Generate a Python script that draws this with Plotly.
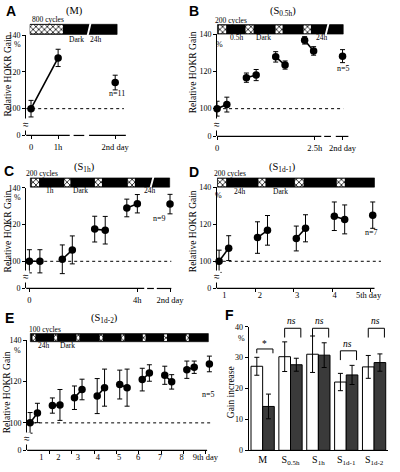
import plotly.graph_objects as go

W, H = 400, 472
SERIF = "Liberation Serif"
SANS = "Liberation Sans"

# ---------------- data ----------------
# Panel A (M)
a_x = [0, 1, 3.107]
a_y = [100, 127.6, 114.2]
a_err = [4.5, 4.7, 4.0]
a_tickvals = [0, 1, 3.107]
a_ticktext = ["0", "1h", "2nd day"]

# Panel B (S0.5h)
b_x = [0, 0.25, 0.75, 1.0, 1.5, 1.74, 2.24, 2.47, 3.21]
b_y = [100, 102.2, 116.7, 118.1, 127.9, 123.5, 136.8, 131.1, 128.3]
b_err = [4.0, 4.0, 2.5, 3.0, 2.8, 2.2, 2.0, 2.3, 3.5]
b_tickvals = [0, 2.5, 3.21]
b_ticktext = ["0", "2.5h", "2nd day"]

# Panel C (S1h)
c_x = [0, 0.39, 1.22, 1.59, 2.42, 2.81, 3.61, 4.0, 5.21]
c_y = [100, 100, 101.1, 106.2, 117.5, 116.9, 129.0, 131.3, 131.1]
c_err = [6.3, 6.3, 7.8, 7.6, 7.0, 7.5, 4.8, 5.0, 5.3]
c_tickvals = [0, 4, 5.21]
c_ticktext = ["0", "4h", "2nd day"]

# Panel D (S1d-1)
d_x = [1.06, 1.31, 2.06, 2.32, 3.07, 3.31, 4.06, 4.33, 5.06]
d_y = [100, 107.1, 112.8, 116.7, 112.3, 117.8, 124.3, 122.6, 124.9]
d_err = [6.0, 6.7, 8.5, 8.0, 6.7, 7.3, 7.7, 7.8, 7.1]
d_tickvals = [1.2, 2.12, 3.09, 4.07, 4.95]
d_ticktext = ["1", "2", "3", "4", "5th day"]
d_tickmarks = [2, 3, 4, 5]

# Panel E (S1d-2)
e_x = [0.12, 0.45, 1.12, 1.46, 2.11, 2.45, 3.13, 3.46, 4.14, 4.47,
       5.15, 5.47, 6.16, 6.47, 7.15, 7.48, 8.16]
e_y = [100, 104.8, 108.4, 108.7, 112.2, 116.2, 113.0, 117.1, 118.6, 117.1,
       121.0, 124.2, 123.1, 119.9, 125.8, 127.0, 128.6]
e_err = [5.0, 4.7, 3.7, 7.5, 5.7, 5.0, 8.5, 9.0, 7.0, 9.0,
         5.5, 4.0, 4.4, 3.5, 4.2, 3.0, 3.8]
e_tickvals = [0.63, 1.39, 2.26, 3.16, 4.11, 4.97, 5.95, 6.92, 7.98]
e_ticktext = ["1", "2", "3", "4", "5", "6", "7", "8", "9th day"]
e_tickmarks = [1, 2, 3, 4, 5, 6, 7, 8]

# Panel F (gain increase)
f_cats = ["M", "S<sub>0.5h</sub>", "S<sub>1h</sub>", "S<sub>1d-1</sub>", "S<sub>1d-2</sub>"]
f_white = [27.2, 30.3, 31.1, 22.1, 27.0]
f_white_err = [2.9, 4.8, 5.9, 2.8, 3.7]
f_dark = [14.2, 27.7, 30.8, 24.4, 28.4]
f_dark_err = [4.0, 2.1, 4.0, 3.1, 2.8]
f_sig = ["*", "ns", "ns", "ns", "ns"]
f_sig_y = [32.8, 39.5, 39.5, 32.2, 39.5]
f_sig_leg = [1.4, 3.0, 3.0, 3.0, 3.0]

# ---------------- layout config ----------------
def xd(l, r):
    return [l / W, r / W]

def yd(top, bot):
    return [1 - bot / H, 1 - top / H]

panels = [
    dict(n=1, x=a_x, y=a_y, err=a_err, tv=a_tickvals, tt=a_ticktext, marks=None,
         x0px=30, xs=28, left=25, right=130, top=31.7, bot=134, ybot=85.44,
         dash_end=126, segs=[(25, 70), (74, 85), (90, 128)], brk=123,
         title="(M)", tpos=(75, 7), letter="A", lpos=(9, 7),
         ylab=(6, 73), pct=(16, 41), ntxt="n=11", npos=(119, 91)),
    dict(n=2, x=b_x, y=b_y, err=b_err, tv=b_tickvals, tt=b_ticktext, marks=None,
         x0px=222.3, xs=40.4, left=222.3, right=362, top=31, bot=135, ybot=85.05,
         dash_end=352.7, segs=[(222.3, 330), (333, 340), (345, 358)], brk=122.7,
         title="(S<sub>0.5h</sub>)", tpos=(290, 8), letter="B", lpos=(198, 7),
         ylab=(197, 70), pct=(225, 41), ntxt="n=5", npos=(353, 66)),
    dict(n=3, x=c_x, y=c_y, err=c_err, tv=c_tickvals, tt=c_ticktext, marks=None,
         x0px=28.3, xs=27.9, left=25, right=177, top=187.3, bot=290, ybot=85.23,
         dash_end=175, segs=[(25, 147), (150, 157), (160, 175)], brk=278,
         title="(S<sub>1h</sub>)", tpos=(85, 167), letter="C", lpos=(7, 170),
         ylab=(6, 232), pct=(16, 197), ntxt="n=9", npos=(163, 219)),
    dict(n=4, x=d_x, y=d_y, err=d_err, tv=d_tickvals, tt=d_ticktext, marks=d_tickmarks,
         x0px=182.3, xs=39.7, left=222, right=395, top=186.7, bot=290, ybot=85.34,
         dash_end=391.7, segs=[(222, 385)], brk=278,
         title="(S<sub>1d-1</sub>)", tpos=(290, 167), letter="D", lpos=(198, 171),
         ylab=(197, 232), pct=(224, 195), ntxt="n=7", npos=(382, 233)),
    dict(n=5, x=e_x, y=e_y, err=e_err, tv=e_tickvals, tt=e_ticktext, marks=e_tickmarks,
         x0px=26.25, xs=23.05, left=26, right=220, top=343, bot=455, ybot=86.67,
         dash_end=218, segs=[(26, 212)], brk=443,
         title="(S<sub>1d-2</sub>)", tpos=(106, 321), letter="E", lpos=(8, 320),
         ylab=(6, 396), pct=(16, 353), ntxt="n=5", npos=(213, 398)),
]

timelines = [
    dict(l=29, r=119, t=20.7, b=31, hatch=[(29, 63)], slash=[(87.5, 90.5)],
         texts=[("800 cycles", 48, 16), ("Dark", 77.5, 36), ("24h", 97.5, 36)]),
    dict(l=222.7, r=352.7, t=21, b=30.7,
         hatch=[(224, 231.7), (251.7, 260), (282.7, 290), (311.7, 319.3)], slash=[(333.5, 336.5)],
         texts=[("200 cycles", 237, 17), ("0.5h", 242, 34.5), ("Dark", 270, 34.5), ("24h", 331, 34.5)]),
    dict(l=29.3, r=173.3, t=177.3, b=186.7,
         hatch=[(30.7, 38.3), (64.3, 70.7), (96, 103.3), (130, 137.3)], slash=[(152.5, 155.5)],
         texts=[("200 cycles", 41, 173), ("1h", 50, 190.5), ("Dark", 81.5, 190.5), ("24h", 153, 190.5)]),
    dict(l=222.7, r=385, t=177.3, b=186.7,
         hatch=[(223.3, 231.7), (265, 272.3), (302.7, 311.7), (346, 354.3)], slash=[],
         texts=[("200 cycles", 236, 173), ("24h", 246, 191), ("Dark", 288, 191)]),
    dict(l=29.3, r=213.3, t=336, b=344.3,
         hatch=[(31.5, 34.5), (54, 57), (77, 80), (101, 104), (123.5, 126.5),
                (145.5, 148.5), (167.5, 170.5), (190, 193)], slash=[],
         texts=[("100 cycles", 44, 331.5), ("24h", 43, 348.5), ("Dark", 67.5, 348.5)]),
]

fig = go.Figure()
shapes = []
annots = []

def suf(n):
    return "" if n == 1 else str(n)

def px_annot(text, x, y, size=8, font=SERIF, angle=0, **kw):
    annots.append(dict(text=text, x=x, y=y, xref="x7", yref="y7", showarrow=False,
                       font=dict(family=font, size=size, color="#000000"),
                       textangle=angle, **kw))

for p in panels:
    s = suf(p["n"])
    xa, ya = "x" + s, "y" + s
    lx, ly = [], []
    npts = len(p["x"])
    if p["n"] == 1:
        pairs = [(0, 1)]
    else:
        pairs = [(i, i + 1) for i in range(0, npts - 1, 2)]
    for i, j in pairs:
        lx += [p["x"][i], p["x"][j], None]
        ly += [p["y"][i], p["y"][j], None]
    fig.add_trace(go.Scatter(x=lx, y=ly, mode="lines", xaxis=xa, yaxis=ya,
                             line=dict(color="black", width=1.6), cliponaxis=False,
                             showlegend=False, hoverinfo="skip"))
    fig.add_trace(go.Scatter(x=p["x"], y=p["y"], mode="markers", xaxis=xa, yaxis=ya,
                             marker=dict(size=7.5, color="black"), cliponaxis=False,
                             error_y=dict(type="data", array=p["err"], visible=True,
                                          color="black", thickness=1, width=2.5),
                             showlegend=False))
    xr = [(p["left"] - p["x0px"]) / p["xs"], (p["right"] - p["x0px"]) / p["xs"]]
    xaxis = dict(domain=xd(p["left"], p["right"]), range=xr, anchor=ya,
                 showline=False, showgrid=False, zeroline=False,
                 tickmode="array", tickvals=p["tv"], ticktext=p["tt"],
                 ticks="outside" if p["marks"] is None else "", ticklen=3,
                 tickcolor="black", tickfont=dict(family=SERIF, size=8.5, color="black"))
    if p["marks"] is not None:
        xaxis["minor"] = dict(tickmode="array", tickvals=p["marks"], ticks="outside",
                              ticklen=3, tickcolor="black", showgrid=False)
    fig.layout["xaxis" + s] = xaxis
    fig.layout["yaxis" + s] = dict(domain=yd(p["top"], p["bot"]), range=[p["ybot"], 140],
                                   anchor=xa, showline=True, linecolor="black", linewidth=1,
                                   showgrid=False, zeroline=False, tickmode="array",
                                   tickvals=[p["ybot"], 100, 120, 140],
                                   ticktext=["0", "100", "120", "140"],
                                   ticks="outside", ticklen=3, tickcolor="black",
                                   tickfont=dict(family=SERIF, size=8, color="black"))
    shapes.append(dict(type="line", xref=xa, yref=ya, x0=xr[0],
                       x1=(p["dash_end"] - p["x0px"]) / p["xs"], y0=100, y1=100,
                       line=dict(color="black", width=1, dash="3px,3px")))
    for (l, r) in p["segs"]:
        shapes.append(dict(type="line", xref="x7", yref="y7", x0=l, x1=r,
                           y0=p["bot"], y1=p["bot"], line=dict(color="black", width=1.2)))
    px_annot("≈", p["left"], p["brk"], size=10, font=SANS, bgcolor="white", borderpad=0)
    px_annot(p["title"], p["tpos"][0], p["tpos"][1], size=10.5)
    px_annot("<b>" + p["letter"] + "</b>", p["lpos"][0], p["lpos"][1], size=14, font=SANS)
    px_annot("Relative HOKR Gain", p["ylab"][0], p["ylab"][1], size=9.5, angle=-90)
    px_annot("%", p["pct"][0], p["pct"][1], size=8)
    px_annot(p["ntxt"], p["npos"][0], p["npos"][1], size=8)

for tl in timelines:
    l, r, t, b = tl["l"], tl["r"], tl["t"], tl["b"]
    fig.add_trace(go.Scatter(x=[l, r, r, l, l], y=[t, t, b, b, t], xaxis="x7", yaxis="y7",
                             fill="toself", fillcolor="black", mode="lines",
                             line=dict(color="black", width=0.6), showlegend=False,
                             hoverinfo="skip"))
    for (hl, hr) in tl["hatch"]:
        fig.add_trace(go.Scatter(x=[hl, hr, hr, hl, hl],
                                 y=[t + 0.8, t + 0.8, b - 0.8, b - 0.8, t + 0.8],
                                 xaxis="x7", yaxis="y7", fill="toself", fillcolor="white",
                                 fillpattern=dict(shape="x", size=4, solidity=0.35,
                                                  fgcolor="black", bgcolor="white",
                                                  fillmode="replace"),
                                 mode="lines", line=dict(width=0), showlegend=False,
                                 hoverinfo="skip"))
    for (xb, xt) in tl["slash"]:
        fig.add_trace(go.Scatter(x=[xb, xb + 2, xt + 2, xt, xb],
                                 y=[b + 1, b + 1, t - 1, t - 1, b + 1],
                                 xaxis="x7", yaxis="y7", fill="toself", fillcolor="white",
                                 mode="lines", line=dict(width=0, color="white"),
                                 showlegend=False, hoverinfo="skip"))
    for (txt, tx, ty) in tl["texts"]:
        px_annot(txt, tx, ty, size=7.5)

fig.add_trace(go.Bar(x=f_cats, y=f_white, xaxis="x6", yaxis="y6",
                     marker=dict(color="white", line=dict(color="black", width=1)),
                     error_y=dict(type="data", array=f_white_err, color="black",
                                  thickness=1, width=2.5),
                     showlegend=False))
fig.add_trace(go.Bar(x=f_cats, y=f_dark, xaxis="x6", yaxis="y6",
                     marker=dict(color="#3a3a3a", line=dict(color="black", width=1)),
                     error_y=dict(type="data", array=f_dark_err, color="black",
                                  thickness=1, width=2.5),
                     showlegend=False))
for i, (lab, sy, leg) in enumerate(zip(f_sig, f_sig_y, f_sig_leg)):
    x0, x1 = i - 0.21, i + 0.37
    shapes.append(dict(type="path", xref="x6", yref="y6",
                       path=f"M {x0},{sy - leg} L {x0},{sy} L {x1},{sy} L {x1},{sy - leg}",
                       line=dict(color="black", width=1)))
    annots.append(dict(text=lab if lab == "*" else "<i>ns</i>", x=i + 0.05, y=sy,
                       xref="x6", yref="y6", yanchor="bottom", showarrow=False,
                       yshift=-2 if lab == "*" else 0,
                       font=dict(family=SERIF, size=9.5, color="#000000")))

fig.layout["xaxis6"] = dict(domain=xd(255, 399), range=[-0.5, 4.5], anchor="y6",
                            type="category", showline=True, linecolor="black", linewidth=1,
                            ticks="", showgrid=False, zeroline=False,
                            tickfont=dict(family=SERIF, size=10, color="black"))
fig.layout["yaxis6"] = dict(domain=yd(329, 455), range=[0, 40], anchor="x6",
                            showline=True, linecolor="black", linewidth=1, showgrid=False,
                            zeroline=False, tickmode="array", tickvals=[0, 10, 20, 30, 40],
                            ticks="outside", ticklen=3, tickcolor="black",
                            tickfont=dict(family=SERIF, size=8, color="black"))
px_annot("<b>F</b>", 235, 317, size=14, font=SANS)
px_annot("%", 247.5, 341, size=8)
px_annot("Gain increase", 237.5, 396, size=9.5, angle=-90)

fig.layout["xaxis7"] = dict(domain=[0, 1], range=[0, W], visible=False, anchor="y7",
                            fixedrange=True)
fig.layout["yaxis7"] = dict(domain=[0, 1], range=[H, 0], visible=False, anchor="x7",
                            fixedrange=True)

fig.update_layout(width=W, height=H, margin=dict(l=0, r=0, t=0, b=0, pad=0),
                  paper_bgcolor="white", plot_bgcolor="rgba(0,0,0,0)",
                  barmode="group", bargap=0.165, bargroupgap=0,
                  shapes=shapes, annotations=annots, showlegend=False,
                  hovermode=False, font=dict(family=SERIF, color="black"))

fig.write_html("out.html", config={"displayModeBar": False},
               post_script="document.body.style.margin='0';document.body.style.padding='0';")
